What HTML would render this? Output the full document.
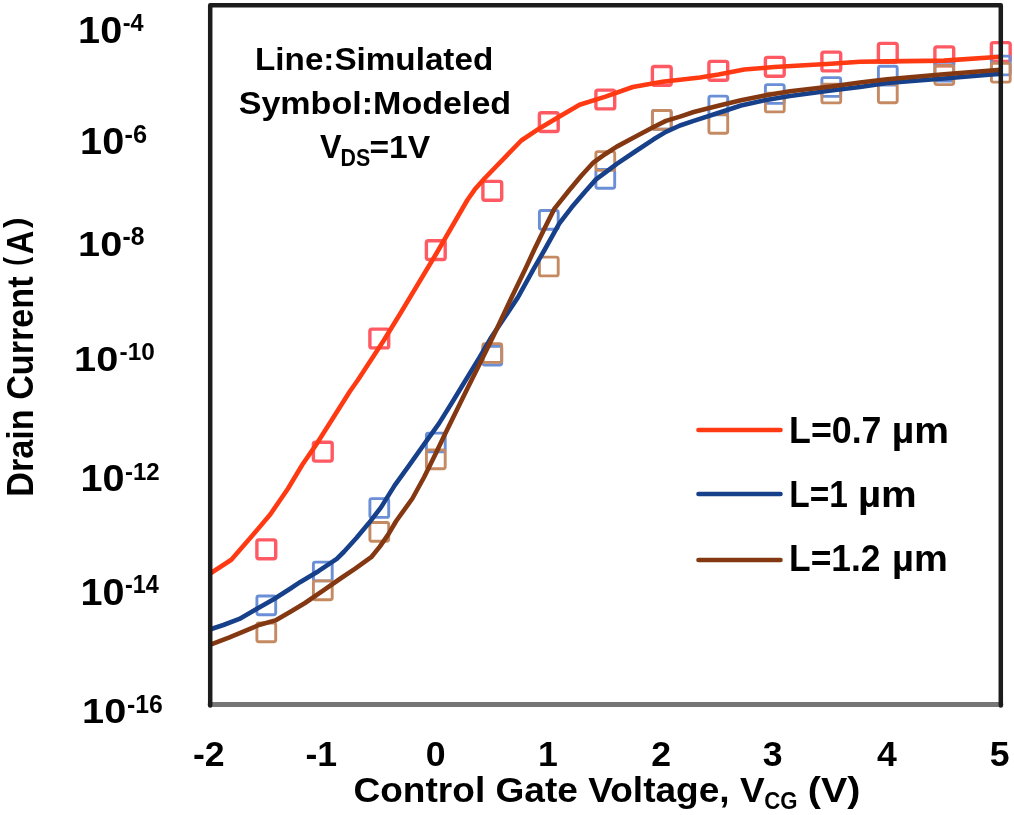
<!DOCTYPE html>
<html><head><meta charset="utf-8"><title>Drain Current vs Control Gate Voltage</title>
<style>html,body{margin:0;padding:0;background:#fff;}svg{display:block;filter:blur(0.45px);}</style></head>
<body>
<svg width="1014" height="815" viewBox="0 0 1014 815">
<rect width="1014" height="815" fill="#fff"/>
<g>
<rect x="256.9" y="539.9" width="18.8" height="18.8" rx="2" fill="none" stroke="#ff5a64" stroke-width="3.4"/>
<rect x="313.4" y="442.3" width="18.8" height="18.8" rx="2" fill="none" stroke="#ff5a64" stroke-width="3.4"/>
<rect x="369.9" y="329.1" width="18.8" height="18.8" rx="2" fill="none" stroke="#ff5a64" stroke-width="3.4"/>
<rect x="426.4" y="240.7" width="18.8" height="18.8" rx="2" fill="none" stroke="#ff5a64" stroke-width="3.4"/>
<rect x="482.9" y="181.4" width="18.8" height="18.8" rx="2" fill="none" stroke="#ff5a64" stroke-width="3.4"/>
<rect x="539.4" y="112.7" width="18.8" height="18.8" rx="2" fill="none" stroke="#ff5a64" stroke-width="3.4"/>
<rect x="595.9" y="90.1" width="18.8" height="18.8" rx="2" fill="none" stroke="#ff5a64" stroke-width="3.4"/>
<rect x="652.4" y="66.5" width="18.8" height="18.8" rx="2" fill="none" stroke="#ff5a64" stroke-width="3.4"/>
<rect x="708.9" y="61.4" width="18.8" height="18.8" rx="2" fill="none" stroke="#ff5a64" stroke-width="3.4"/>
<rect x="765.4" y="57.4" width="18.8" height="18.8" rx="2" fill="none" stroke="#ff5a64" stroke-width="3.4"/>
<rect x="821.9" y="52.1" width="18.8" height="18.8" rx="2" fill="none" stroke="#ff5a64" stroke-width="3.4"/>
<rect x="878.4" y="43.4" width="18.8" height="18.8" rx="2" fill="none" stroke="#ff5a64" stroke-width="3.4"/>
<rect x="934.9" y="46.9" width="18.8" height="18.8" rx="2" fill="none" stroke="#ff5a64" stroke-width="3.4"/>
<rect x="991.4" y="42.6" width="18.8" height="18.8" rx="2" fill="none" stroke="#ff5a64" stroke-width="3.4"/>
<rect x="256.9" y="596.0" width="18.8" height="18.8" rx="2" fill="none" stroke="#6a8fd6" stroke-width="2.9"/>
<rect x="313.4" y="562.1" width="18.8" height="18.8" rx="2" fill="none" stroke="#6a8fd6" stroke-width="2.9"/>
<rect x="369.9" y="498.6" width="18.8" height="18.8" rx="2" fill="none" stroke="#6a8fd6" stroke-width="2.9"/>
<rect x="426.4" y="433.1" width="18.8" height="18.8" rx="2" fill="none" stroke="#6a8fd6" stroke-width="2.9"/>
<rect x="482.9" y="346.2" width="18.8" height="18.8" rx="2" fill="none" stroke="#6a8fd6" stroke-width="2.9"/>
<rect x="539.4" y="210.5" width="18.8" height="18.8" rx="2" fill="none" stroke="#6a8fd6" stroke-width="2.9"/>
<rect x="595.9" y="169.5" width="18.8" height="18.8" rx="2" fill="none" stroke="#6a8fd6" stroke-width="2.9"/>
<rect x="652.4" y="110.5" width="18.8" height="18.8" rx="2" fill="none" stroke="#6a8fd6" stroke-width="2.9"/>
<rect x="708.9" y="96.1" width="18.8" height="18.8" rx="2" fill="none" stroke="#6a8fd6" stroke-width="2.9"/>
<rect x="765.4" y="84.6" width="18.8" height="18.8" rx="2" fill="none" stroke="#6a8fd6" stroke-width="2.9"/>
<rect x="821.9" y="77.6" width="18.8" height="18.8" rx="2" fill="none" stroke="#6a8fd6" stroke-width="2.9"/>
<rect x="878.4" y="66.3" width="18.8" height="18.8" rx="2" fill="none" stroke="#6a8fd6" stroke-width="2.9"/>
<rect x="934.9" y="62.2" width="18.8" height="18.8" rx="2" fill="none" stroke="#6a8fd6" stroke-width="2.9"/>
<rect x="991.4" y="56.1" width="18.8" height="18.8" rx="2" fill="none" stroke="#6a8fd6" stroke-width="2.9"/>
<rect x="256.9" y="623.0" width="18.8" height="18.8" rx="2" fill="none" stroke="#c58a62" stroke-width="2.9"/>
<rect x="313.4" y="580.9" width="18.8" height="18.8" rx="2" fill="none" stroke="#c58a62" stroke-width="2.9"/>
<rect x="369.9" y="522.5" width="18.8" height="18.8" rx="2" fill="none" stroke="#c58a62" stroke-width="2.9"/>
<rect x="426.4" y="449.9" width="18.8" height="18.8" rx="2" fill="none" stroke="#c58a62" stroke-width="2.9"/>
<rect x="482.9" y="343.6" width="18.8" height="18.8" rx="2" fill="none" stroke="#c58a62" stroke-width="2.9"/>
<rect x="539.4" y="257.1" width="18.8" height="18.8" rx="2" fill="none" stroke="#c58a62" stroke-width="2.9"/>
<rect x="595.9" y="151.6" width="18.8" height="18.8" rx="2" fill="none" stroke="#c58a62" stroke-width="2.9"/>
<rect x="652.4" y="110.5" width="18.8" height="18.8" rx="2" fill="none" stroke="#c58a62" stroke-width="2.9"/>
<rect x="708.9" y="114.5" width="18.8" height="18.8" rx="2" fill="none" stroke="#c58a62" stroke-width="2.9"/>
<rect x="765.4" y="93.1" width="18.8" height="18.8" rx="2" fill="none" stroke="#c58a62" stroke-width="2.9"/>
<rect x="821.9" y="84.1" width="18.8" height="18.8" rx="2" fill="none" stroke="#c58a62" stroke-width="2.9"/>
<rect x="878.4" y="84.0" width="18.8" height="18.8" rx="2" fill="none" stroke="#c58a62" stroke-width="2.9"/>
<rect x="934.9" y="65.8" width="18.8" height="18.8" rx="2" fill="none" stroke="#c58a62" stroke-width="2.9"/>
<rect x="991.4" y="63.3" width="18.8" height="18.8" rx="2" fill="none" stroke="#c58a62" stroke-width="2.9"/>
<polyline points="210.6,573.2 231.3,559.7 252.8,535.0 270.4,514.2 287.9,488.7 302.3,464.8 317.2,443.1 349.8,391.5 357.9,380.0 383.4,341.0 400.0,314.0 436.8,252.8 467.4,200.0 474.7,189.6 484.5,178.5 521.3,140.5 539.8,128.2 558.2,117.2 579.6,104.7 605.5,96.6 632.8,87.0 662.4,81.8 700.0,77.5 718.6,74.5 744.2,69.5 774.2,67.0 831.0,63.7 860.0,61.8 887.1,61.4 943.9,60.6 1000.7,56.8" fill="none" stroke="#ff3a12" stroke-width="4.6" stroke-linejoin="round" stroke-linecap="round"/>
<polyline points="210.5,629.3 223.4,625.0 239.4,618.9 256.5,609.1 273.7,599.3 290.9,588.2 300.0,582.2 318.4,571.2 336.8,558.9 344.2,551.5 356.4,538.0 368.7,523.3 381.0,507.4 394.7,485.4 409.5,464.8 424.2,444.2 438.9,423.6 453.6,400.0 462.1,386.0 479.8,357.0 491.5,337.0 517.9,297.4 533.8,268.7 544.5,250.0 559.2,223.6 571.5,207.6 585.0,191.7 596.0,179.4 605.8,172.1 616.8,163.8 635.2,151.5 653.6,139.3 665.9,131.9 680.0,125.5 693.7,120.9 717.3,113.2 741.0,105.5 764.7,100.2 790.0,96.0 831.0,90.5 860.0,87.0 887.1,83.0 943.9,78.5 1000.7,73.8" fill="none" stroke="#17408a" stroke-width="4.6" stroke-linejoin="round" stroke-linecap="round"/>
<polyline points="210.5,644.7 229.5,637.3 259.0,625.0 276.2,620.1 290.9,611.5 305.0,603.0 324.5,589.6 340.5,578.5 355.2,568.7 371.2,557.2 379.8,546.6 388.3,534.4 396.2,521.0 412.4,498.5 424.2,477.0 436.0,453.0 444.8,434.5 456.6,410.5 466.9,389.5 479.6,364.0 493.9,335.0 509.9,301.0 525.8,268.0 534.1,250.0 544.5,228.5 554.3,208.9 569.0,190.5 581.3,175.7 593.6,162.3 605.8,153.7 616.8,146.6 635.2,136.8 653.6,127.0 665.9,120.9 680.0,116.6 693.7,112.0 717.3,106.1 741.0,100.2 764.7,95.4 790.0,91.3 831.0,86.5 860.0,82.5 887.1,79.3 943.9,74.2 1000.7,69.8" fill="none" stroke="#843812" stroke-width="4.6" stroke-linejoin="round" stroke-linecap="round"/>
</g>
<line x1="210.2" y1="704.6" x2="1000.8" y2="704.6" stroke="#767676" stroke-width="5" stroke-linecap="round"/>
<path d="M210.2,705.5 L210.2,5.3 L1000.8,5.3 L1000.8,705.5" fill="none" stroke="#1c1c1c" stroke-width="4.5" stroke-linejoin="round" stroke-linecap="round"/>
<line x1="698.5" y1="430" x2="780.5" y2="430" stroke="#ff3a12" stroke-width="4.6" stroke-linecap="round"/>
<line x1="698.5" y1="494" x2="780.5" y2="494" stroke="#17408a" stroke-width="4.6" stroke-linecap="round"/>
<line x1="698.5" y1="560" x2="780.5" y2="560" stroke="#843812" stroke-width="4.6" stroke-linecap="round"/>
<text transform="translate(78.12 42.70) scale(1.0962 1)" font-size="36.13" font-family="Liberation Sans, sans-serif" font-weight="bold" fill="#000">10</text>
<text transform="translate(122.66 30.90) scale(0.9733 1)" font-size="24.15" font-family="Liberation Sans, sans-serif" font-weight="bold" fill="#000">-4</text>
<text transform="translate(80.12 153.70) scale(1.0748 1)" font-size="36.85" font-family="Liberation Sans, sans-serif" font-weight="bold" fill="#000">10</text>
<text transform="translate(124.49 142.60) scale(0.9991 1)" font-size="25.38" font-family="Liberation Sans, sans-serif" font-weight="bold" fill="#000">-6</text>
<text transform="translate(78.12 255.80) scale(1.1094 1)" font-size="35.70" font-family="Liberation Sans, sans-serif" font-weight="bold" fill="#000">10</text>
<text transform="translate(122.61 245.10) scale(0.9737 1)" font-size="25.38" font-family="Liberation Sans, sans-serif" font-weight="bold" fill="#000">-8</text>
<text transform="translate(74.12 371.00) scale(1.1166 1)" font-size="35.56" font-family="Liberation Sans, sans-serif" font-weight="bold" fill="#000">10</text>
<text transform="translate(119.62 360.00) scale(0.9836 1)" font-size="24.80" font-family="Liberation Sans, sans-serif" font-weight="bold" fill="#000">-10</text>
<text transform="translate(80.42 491.40) scale(1.0918 1)" font-size="36.27" font-family="Liberation Sans, sans-serif" font-weight="bold" fill="#000">10</text>
<text transform="translate(124.94 479.80) scale(0.9688 1)" font-size="24.80" font-family="Liberation Sans, sans-serif" font-weight="bold" fill="#000">-12</text>
<text transform="translate(80.42 605.00) scale(1.0962 1)" font-size="36.13" font-family="Liberation Sans, sans-serif" font-weight="bold" fill="#000">10</text>
<text transform="translate(124.96 593.30) scale(0.8802 1)" font-size="26.62" font-family="Liberation Sans, sans-serif" font-weight="bold" fill="#000">-14</text>
<text transform="translate(82.12 723.30) scale(1.1121 1)" font-size="35.70" font-family="Liberation Sans, sans-serif" font-weight="bold" fill="#000">10</text>
<text transform="translate(126.91 712.60) scale(0.9279 1)" font-size="26.67" font-family="Liberation Sans, sans-serif" font-weight="bold" fill="#000">-16</text>
<text x="192.99" y="765.50" font-size="35.64" font-family="Liberation Sans, sans-serif" font-weight="bold" fill="#000">-2</text>
<text x="305.46" y="765.50" font-size="35.64" font-family="Liberation Sans, sans-serif" font-weight="bold" fill="#000">-1</text>
<text x="425.71" y="765.50" font-size="35.64" font-family="Liberation Sans, sans-serif" font-weight="bold" fill="#000">0</text>
<text x="538.09" y="765.50" font-size="35.64" font-family="Liberation Sans, sans-serif" font-weight="bold" fill="#000">1</text>
<text x="651.20" y="765.50" font-size="35.64" font-family="Liberation Sans, sans-serif" font-weight="bold" fill="#000">2</text>
<text x="762.83" y="765.50" font-size="35.64" font-family="Liberation Sans, sans-serif" font-weight="bold" fill="#000">3</text>
<text x="876.93" y="765.50" font-size="35.64" font-family="Liberation Sans, sans-serif" font-weight="bold" fill="#000">4</text>
<text x="989.87" y="765.50" font-size="35.64" font-family="Liberation Sans, sans-serif" font-weight="bold" fill="#000">5</text>
<text transform="translate(353.42 802.20) scale(1.0470 1)" font-size="35.41" font-family="Liberation Sans, sans-serif" font-weight="bold" fill="#000">Control Gate Voltage, V</text>
<text transform="translate(764.31 809.00) scale(0.9551 1)" font-size="23.23" font-family="Liberation Sans, sans-serif" font-weight="bold" fill="#000">CG</text>
<text transform="translate(807.83 802.20) scale(1.0976 1)" font-size="35.93" font-family="Liberation Sans, sans-serif" font-weight="bold" fill="#000">(V)</text>
<text transform="translate(32.50 496.71) rotate(-90) scale(0.9439 1)" font-size="36.22" font-family="Liberation Sans, sans-serif" font-weight="bold" fill="#000">Drain Current</text>
<text transform="translate(25.89 265.80) rotate(-90) scale(0.8186 1)" font-size="31.85" font-family="Liberation Sans, sans-serif" font-weight="bold" fill="#000">(</text>
<text transform="translate(32.50 254.32) rotate(-90) scale(0.8750 1)" font-size="37.53" font-family="Liberation Sans, sans-serif" font-weight="bold" fill="#000">A</text>
<text transform="translate(25.89 227.88) rotate(-90) scale(0.9868 1)" font-size="31.85" font-family="Liberation Sans, sans-serif" font-weight="bold" fill="#000">)</text>
<text transform="translate(255.06 70.40) scale(1.0677 1)" font-size="31.13" font-family="Liberation Sans, sans-serif" font-weight="bold" fill="#000">Line:Simulated</text>
<text transform="translate(238.68 114.30) scale(1.0954 1)" font-size="31.11" font-family="Liberation Sans, sans-serif" font-weight="bold" fill="#000">Symbol:Modeled</text>
<text transform="translate(320.06 157.60) scale(0.9881 1)" font-size="32.73" font-family="Liberation Sans, sans-serif" font-weight="bold" fill="#000">V</text>
<text transform="translate(340.56 165.60) scale(0.8870 1)" font-size="24.09" font-family="Liberation Sans, sans-serif" font-weight="bold" fill="#000">DS</text>
<text transform="translate(369.47 157.60) scale(1.0605 1)" font-size="31.71" font-family="Liberation Sans, sans-serif" font-weight="bold" fill="#000">=1V</text>
<text transform="translate(789.09 442.80) scale(0.9913 1)" font-size="36.07" font-family="Liberation Sans, sans-serif" font-weight="bold" fill="#000">L=0.7</text>
<text transform="translate(891.66 442.80) scale(1.0840 1)" font-size="36.07" font-family="Liberation Sans, sans-serif" font-weight="bold" fill="#000">µm</text>
<text transform="translate(789.24 507.00) scale(0.9242 1)" font-size="36.22" font-family="Liberation Sans, sans-serif" font-weight="bold" fill="#000">L=1</text>
<text transform="translate(857.99 507.00) scale(1.1085 1)" font-size="36.22" font-family="Liberation Sans, sans-serif" font-weight="bold" fill="#000">µm</text>
<text transform="translate(789.11 571.10) scale(0.9763 1)" font-size="36.22" font-family="Liberation Sans, sans-serif" font-weight="bold" fill="#000">L=1.2</text>
<text transform="translate(892.03 571.10) scale(1.0507 1)" font-size="36.22" font-family="Liberation Sans, sans-serif" font-weight="bold" fill="#000">µm</text>
</svg>
</body></html>
